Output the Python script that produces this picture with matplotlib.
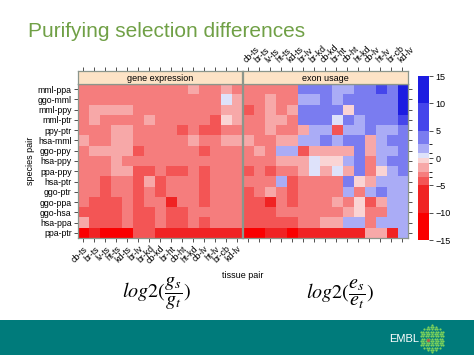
import numpy as np
import matplotlib
matplotlib.use("Agg")
import matplotlib.pyplot as plt
from matplotlib.colors import ListedColormap, BoundaryNorm
from matplotlib.patches import Rectangle
import matplotlib.cm as cm

plt.rcParams['font.family'] = ['Liberation Sans', 'DejaVu Sans']
plt.rcParams['mathtext.fontset'] = 'stix'

# ---------------- data ----------------
species_pairs = ["mml-ppa", "ggo-mml", "mml-ppy", "mml-ptr", "ppy-ptr", "hsa-mml", "ggo-ppy",
                 "hsa-ppy", "ppa-ppy", "hsa-ptr", "ggo-ptr", "ggo-ppa", "ggo-hsa", "hsa-ppa", "ppa-ptr"]
tissue_pairs = ["cb-ts", "br-ts", "lv-ts", "ht-ts", "kd-ts", "br-lv", "br-kd", "cb-kd",
                "br-ht", "cb-ht", "ht-kd", "cb-lv", "ht-lv", "br-cb", "kd-lv"]
panel_names = ["gene expression", "exon usage"]

# approximate log2 ratio values (code -> value)
level_values = {"B": -12, "R": -7, "D": -4.2, "S": -3, "L": -1.8, "P": -0.5,
                "W": 0.5, "l": 1.8, "m": 3.7, "b": 7, "k": 12}

gene_expression_rows = [
    "SSSSSSSSSSLSSLS",
    "SSSSSSSSSSSSSWL",
    "SLLLLSSSSSSSSLL",
    "SLSSSSLSSSSSDPL",
    "SSSLLSSSSDSDDSS",
    "LSSLLSSSSSLSSLL",
    "SLLLLDSSSSSDSSS",
    "SSSLSSSSSSSSSSS",
    "SSSLLDDSDDSDSSS",
    "SSDSSDLDSSSDSSS",
    "SSDSSDSDSSSDSSS",
    "SDDDSDSSRSSDSSS",
    "DDDDSDDSDDSSSSS",
    "LDDDSDDSDDSDSSS",
    "BRBBBDDRRRRRRRR",
]
exon_usage_rows = [
    "SSSSSmmmllmmbmk",
    "SSLSSllmlmmmmmk",
    "DSLSLmmmmPmmmmk",
    "SSLLSmmmWmlmmmb",
    "SSLSSLllDllmllm",
    "LSSLLllmlmmLlmm",
    "SLSllDLLLLmLllm",
    "SSSLLLWPPlmSlmm",
    "DSDSSLWLWLmSPlm",
    "SSSlDSSSSmPLlll",
    "DSLSDSSSSlSlmll",
    "DDRSDSSSLSPDLll",
    "DDDSSSSSSLPSSll",
    "DDDDDSSLLllSlll",
    "BBRRBRRRRRRLLRl",
]

cbar_bounds = [-15, -10, -5, -3.5, -2.5, -1, 0, 1, 2.5, 5, 10, 15]
cbar_colors = ["#fa0000", "#f02323", "#f35555", "#f57d7d", "#f7a8a8", "#fad4d4",
               "#dee2fa", "#aaacf6", "#7a7cf0", "#4545eb", "#1c1ce1"]
cbar_ticks = [-15, -10, -5, 0, 5, 10, 15]


def to_matrix(rows):
    return np.array([[level_values[c] for c in r] for r in rows], dtype=float)


panels = [to_matrix(gene_expression_rows), to_matrix(exon_usage_rows)]

# ---------------- figure ----------------
W, H = 474, 355
fig = plt.figure(figsize=(W / 100, H / 100), dpi=100)


def ax_px(x0, y0, x1, y1, **kw):
    return fig.add_axes([x0 / W, 1 - y1 / H, (x1 - x0) / W, (y1 - y0) / H], **kw)


cmap = ListedColormap(cbar_colors)
norm = BoundaryNorm(cbar_bounds, cmap.N)

frame_col = "#8c968c"
tick_kw = dict(length=3, width=0.6, color="#333333", labelsize=6.3, pad=1.5)

panel_x = [(78, 242.5), (242.5, 408)]
top_y, bot_y = 84, 238
strip_top = 71

n = len(tissue_pairs)
for p, (x0, x1) in enumerate(panel_x):
    ax = ax_px(x0, top_y, x1, bot_y)
    ax.imshow(panels[p], cmap=cmap, norm=norm, aspect="auto", interpolation="nearest",
              extent=(-0.5, n - 0.5, len(species_pairs) - 0.5, -0.5))
    ax.set_xlim(-0.5, n - 0.5)
    ax.set_ylim(len(species_pairs) - 0.5, -0.5)
    for s in ax.spines.values():
        s.set_color(frame_col)
        s.set_linewidth(0.9)
    ax.set_xticks(range(n))
    ax.set_yticks(range(len(species_pairs)))
    ax.tick_params(axis="both", **tick_kw)
    if p == 0:
        ax.set_yticklabels(species_pairs)
        ax.set_xticklabels(tissue_pairs, rotation=45, ha="right", va="top",
                           rotation_mode="anchor")
        ax.tick_params(axis="y", left=True, right=False, labelleft=True)
        ax.set_ylabel("species pair", fontsize=6.5, labelpad=2)
    else:
        ax.set_yticklabels([])
        ax.set_xticklabels([])
        ax.tick_params(axis="y", left=False, right=True, labelleft=False)
    # strip
    sx = ax_px(x0, strip_top, x1, top_y)
    sx.set_facecolor("#fde3c6")
    sx.set_xlim(-0.5, n - 0.5)
    sx.set_ylim(0, 1)
    sx.set_yticks([])
    sx.set_xticks(range(n))
    for s in sx.spines.values():
        s.set_color(frame_col)
        s.set_linewidth(0.9)
    sx.tick_params(axis="x", bottom=False, top=True, labelbottom=False, labeltop=(p == 1), **tick_kw)
    if p == 1:
        sx.set_xticklabels(tissue_pairs, rotation=45, ha="left", va="bottom",
                           rotation_mode="anchor")
    else:
        sx.set_xticklabels([])
    sx.text(0.5, 0.45, panel_names[p], transform=sx.transAxes, ha="center", va="center",
            fontsize=6.5)

fig.text(243 / W, 1 - 275 / H, "tissue pair", ha="center", va="center", fontsize=6.5)

# colorbar
cax = ax_px(418, 76, 429, 240)
sm = cm.ScalarMappable(norm=norm, cmap=cmap)
cb = fig.colorbar(sm, cax=cax, boundaries=cbar_bounds, spacing="proportional", ticks=cbar_ticks)
cb.outline.set_visible(False)
cb.ax.tick_params(length=3, width=0.6, color="#333333", labelsize=6.5, pad=1.5)
cb.ax.set_yticklabels([str(t).replace("-", "\u2212") for t in cbar_ticks])

# title
fig.text(28 / W, 1 - 37 / H, "Purifying selection differences", fontsize=15,
         color="#70a046", va="baseline", ha="left")

# formulas
fig.text(157 / W, 1 - 294 / H, r"$\mathit{log2}(\dfrac{g_s}{g_t})$", fontsize=14.5,
         ha="center", va="center")
fig.text(340 / W, 1 - 294 / H, r"$\mathit{log2}(\dfrac{e_s}{e_t})$", fontsize=14.5,
         ha="center", va="center")

# footer band
fig.patches.append(Rectangle((0, 0), 1, 1 - 320 / H, transform=fig.transFigure,
                             facecolor="#007b7b", edgecolor="none", zorder=-5))
fig.text(389 / W, 1 - 339 / H, "EMBL", color="white", fontsize=8, va="center", ha="left")

# logo: hexagon of dots
lax = ax_px(418, 324, 446, 353)
lax.set_zorder(5)
lax.set_xlim(-1.1, 1.1)
lax.set_ylim(-1.1, 1.1)
lax.axis("off")
pts = []
step = 0.2
for j in range(-7, 8):
    yy = j * step * 0.866
    for i in range(-8, 9):
        xx = i * step + (j % 2) * step / 2
        if abs(xx) <= 0.9 and abs(xx) * 0.577 + abs(yy) <= 1.04:
            pts.append((xx, yy))
pts = np.array(pts)
lax.scatter(pts[:, 0], pts[:, 1], s=2.5, color="#7fd35a", linewidths=0)
lax.scatter([-0.35], [-0.1], s=6, color="#b0604a", linewidths=0)

fig.savefig("out.png", dpi=100)
